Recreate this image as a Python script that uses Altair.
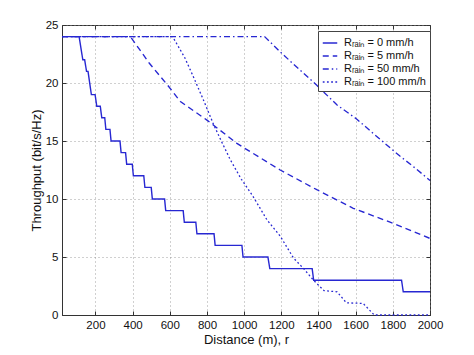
import altair as alt
import pandas as pd

# ---- data ----
labels = ["Rᵣₐᵢₙ = 0 mm/h", "Rᵣₐᵢₙ = 5 mm/h", "Rᵣₐᵢₙ = 50 mm/h", "Rᵣₐᵢₙ = 100 mm/h"]

r0_x = [20, 112, 132, 142, 152, 160, 178, 198, 207, 226, 234, 250, 256, 278, 284, 332,
        338, 362, 368, 398, 404, 460, 466, 500, 506, 572, 578, 672, 678, 740, 746, 838,
        844, 988, 994, 1128, 1138, 1366, 1374, 1847, 1856, 2000]
r0_y = [24, 24, 22, 22, 21, 21, 19, 19, 18, 18, 17, 17, 16, 16, 15, 15,
        14, 14, 13, 13, 12, 12, 11, 11, 10, 10, 9, 9, 8, 8, 7, 7,
        6, 6, 5, 5, 4, 4, 3, 3, 2, 2]

r5_x = [20, 388, 490, 594, 657, 800, 961, 1000, 1194, 1391, 1587, 1802, 2000]
r5_y = [24, 24, 21.7, 19.7, 18.4, 16.8, 14.8, 14.4, 12.5, 10.8, 9.2, 7.9, 6.6]

r50_x = [20, 1110, 1206, 1391, 1500, 1605, 1720, 1838, 1910, 2000]
r50_y = [24, 24, 22.5, 19.8, 18.1, 16.9, 15.3, 13.7, 12.8, 11.6]

r100_x = [20, 615, 680, 728, 782, 836, 880, 925, 985, 1045, 1123, 1194, 1266, 1320,
          1373, 1430, 1500, 1550, 1640, 1700, 2000]
r100_y = [24, 24, 22.2, 20.5, 18.5, 16.4, 14.9, 13.4, 11.7, 10.3, 8.2, 6.8, 4.9, 4.0,
          3.0, 2.1, 2.0, 1.05, 1.0, 0, 0]

x_ticks = list(range(200, 2001, 200))
y_ticks = [0, 5, 10, 15, 20, 25]

rows = []
for lab, xs, ys in zip(labels, [r0_x, r5_x, r50_x, r100_x], [r0_y, r5_y, r50_y, r100_y]):
    for i, (a, b) in enumerate(zip(xs, ys)):
        rows.append({"series": lab, "r": a, "T": b, "i": i})
df = pd.DataFrame(rows)

BLUE = "#2727d2"
FONT = "Liberation Sans"

xscale = alt.Scale(domain=[20, 2000], nice=False, zero=False)
yscale = alt.Scale(domain=[0, 25], nice=False)

dash = alt.StrokeDash(
    "series:N",
    scale=alt.Scale(domain=labels, range=[[1, 0], [6, 4], [6, 3, 1.5, 3], [1.8, 2.4]]),
    legend=alt.Legend(
        title=None, orient="none", legendX=256, legendY=6,
        symbolType="stroke", symbolSize=210, symbolStrokeWidth=1.3,
        symbolStrokeColor=BLUE,
        labelFont=FONT, labelFontSize=11, labelColor="#111",
        rowPadding=0, padding=4, strokeColor="#444", fillColor="white",
        cornerRadius=0, labelOffset=6, labelLimit=200,
    ),
)

lines = alt.Chart(df).mark_line(color=BLUE).encode(
    x=alt.X("r:Q", scale=xscale,
            axis=alt.Axis(values=x_ticks, format="d", title="Distance (m),  r", tickSize=0,
                          grid=True, gridDash=[1, 3], gridColor="#888", gridWidth=0.8,
                          labelFont=FONT, labelFontSize=11.5, labelColor="#111",
                          titleFont=FONT, titleFontSize=13, titleFontWeight="normal",
                          titleColor="#111", labelPadding=4, titlePadding=3,
                          domainColor="#333", labelFlush=False)),
    y=alt.Y("T:Q", scale=yscale,
            axis=alt.Axis(values=y_ticks, title="Throughput (bit/s/Hz)", tickSize=0,
                          grid=True, gridDash=[1, 3], gridColor="#888", gridWidth=0.8,
                          labelFont=FONT, labelFontSize=11.5, labelColor="#111",
                          titleFont=FONT, titleFontSize=13, titleFontWeight="normal",
                          titleColor="#111", labelPadding=4, titlePadding=2,
                          domainColor="#333")),
    strokeDash=dash,
    strokeWidth=alt.StrokeWidth("series:N",
                                scale=alt.Scale(domain=labels, range=[1.4, 1.3, 1.2, 1.9]),
                                legend=None),
    order="i:Q",
)

def tick_layer(xorient, yorient):
    return alt.Chart(df).mark_point(opacity=0).encode(
        x=alt.X("r:Q", scale=xscale,
                axis=alt.Axis(values=x_ticks, orient=xorient, offset=-4, tickSize=4,
                              labels=False, domain=False, grid=False, title=None,
                              tickColor="#333")),
        y=alt.Y("T:Q", scale=yscale,
                axis=alt.Axis(values=y_ticks, orient=yorient, offset=-4, tickSize=4,
                              labels=False, domain=False, grid=False, title=None,
                              tickColor="#333")),
    )

chart = alt.layer(lines, tick_layer("bottom", "left"), tick_layer("top", "right")).resolve_axis(
    x="independent", y="independent"
).properties(
    width=368, height=290,
    autosize=alt.AutoSizeParams(type="none"),
    padding={"left": 54, "top": 17, "right": 30, "bottom": 40},
    background="white",
).configure_view(stroke="#333", strokeWidth=1)

chart.save("out.html", embed_options={"renderer": "svg", "actions": False})
